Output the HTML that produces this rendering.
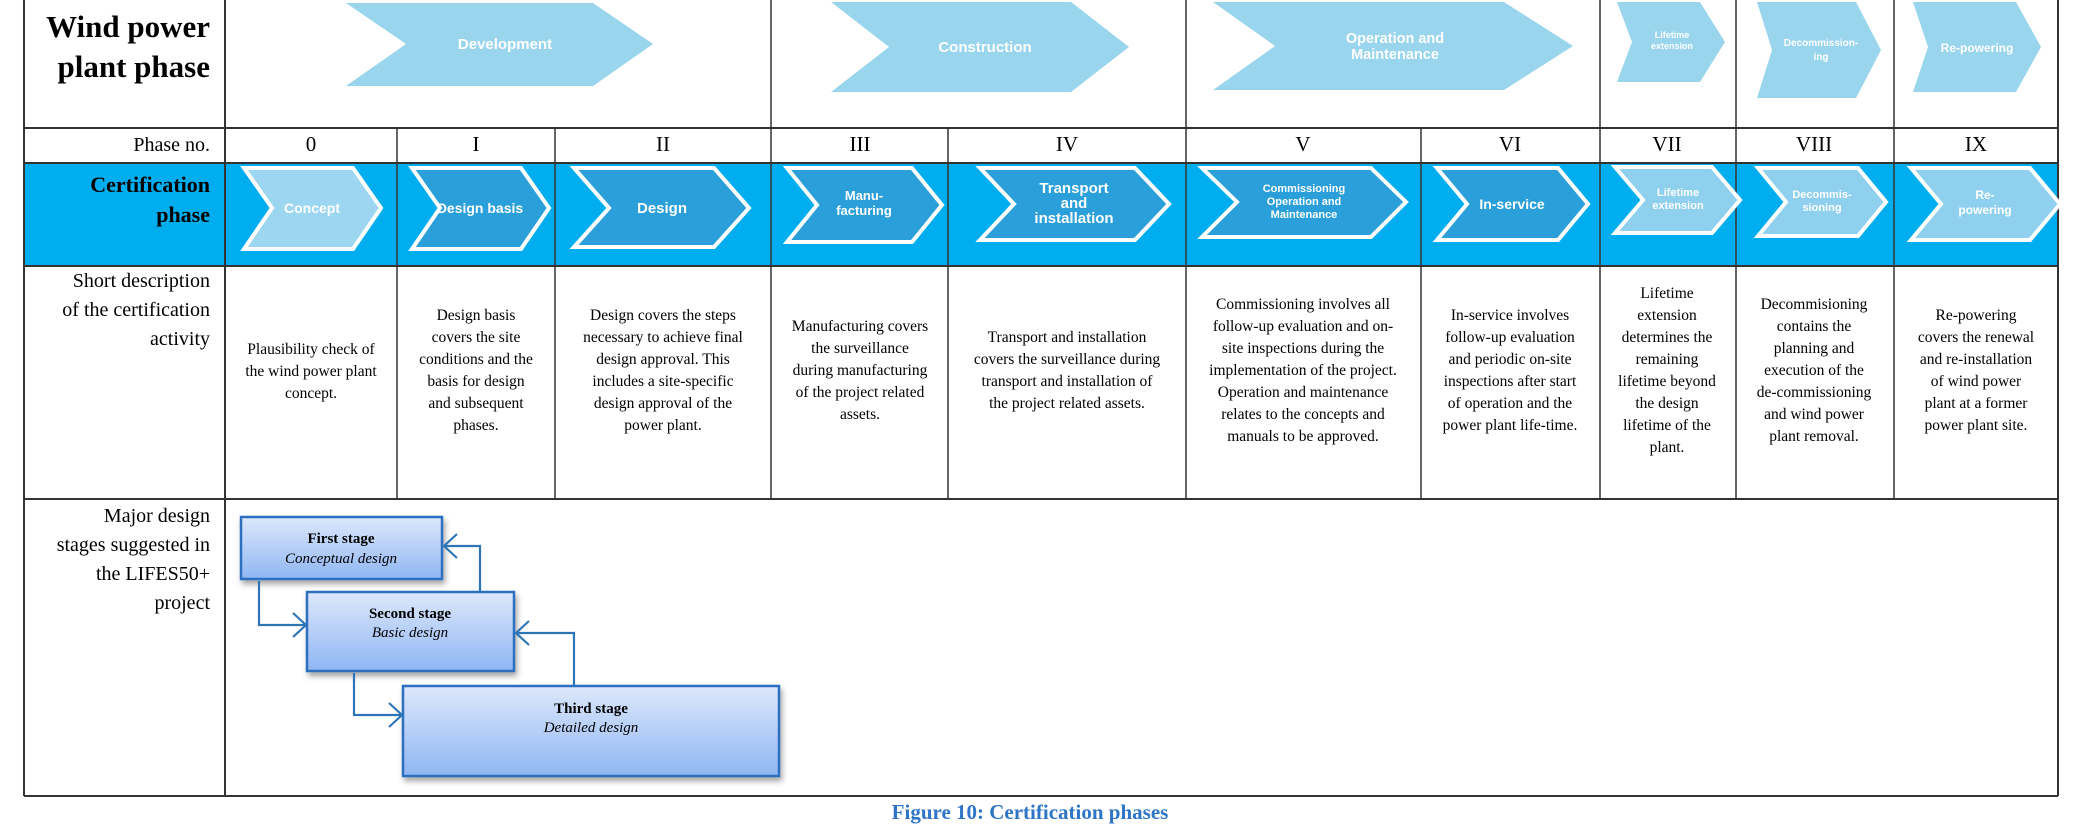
<!DOCTYPE html>
<html><head><meta charset="utf-8"><style>
html,body{margin:0;padding:0;background:#fff;}
svg{display:block;}
.s{font-family:"Liberation Serif",serif;}
.w{font-family:"Liberation Sans",sans-serif;font-weight:bold;fill:#fff;}
</style></head><body>
<svg width="2077" height="837" viewBox="0 0 2077 837" xmlns="http://www.w3.org/2000/svg">
<defs>
<linearGradient id="bg" x1="0" y1="0" x2="0" y2="1"><stop offset="0" stop-color="#dde8fb"/><stop offset="1" stop-color="#8fb6f3"/></linearGradient>
<filter id="sh" x="-10%" y="-10%" width="130%" height="140%"><feDropShadow dx="2" dy="4" stdDeviation="3" flood-color="#000" flood-opacity="0.35"/></filter>
</defs>
<rect x="24" y="163" width="2034" height="103" fill="#00aeef"/>
<g stroke="#333" stroke-width="2" fill="none">
<line x1="24" y1="0" x2="24" y2="796"/>
<line x1="2058" y1="0" x2="2058" y2="796"/>
<line x1="24" y1="128" x2="2058" y2="128"/>
<line x1="24" y1="163" x2="2058" y2="163"/>
<line x1="24" y1="266" x2="2058" y2="266"/>
<line x1="24" y1="499" x2="2058" y2="499"/>
<line x1="24" y1="796" x2="2058" y2="796"/>
<line x1="225" y1="0" x2="225" y2="796"/>
</g>
<g stroke="#333" stroke-width="1.5">
<line x1="771" y1="0" x2="771" y2="499"/>
<line x1="1186" y1="0" x2="1186" y2="499"/>
<line x1="1600" y1="0" x2="1600" y2="499"/>
<line x1="1736" y1="0" x2="1736" y2="499"/>
<line x1="1894" y1="0" x2="1894" y2="499"/>
<line x1="397" y1="128" x2="397" y2="499"/>
<line x1="555" y1="128" x2="555" y2="499"/>
<line x1="948" y1="128" x2="948" y2="499"/>
<line x1="1421" y1="128" x2="1421" y2="499"/>
</g>
<g fill="#9ad5ee">
<polygon points="346,3 593,3 653,44 593,86 346,86 406,44"/>
<polygon points="831,2 1071,2 1129,47 1071,92 831,92 889,47"/>
<polygon points="1213,2 1504,2 1573,46 1504,90 1213,90 1275,46"/>
<polygon points="1617,2 1700,2 1725,42 1700,82 1617,82 1632,42"/>
<polygon points="1757,2 1856,2 1881,50 1856,98 1757,98 1772,50"/>
<polygon points="1913,2 2016,2 2041,47 2016,92 1913,92 1928,47"/>
</g>
<g class="w" text-anchor="middle">
<text x="505" y="49" font-size="15">Development</text>
<text x="985" y="52" font-size="15">Construction</text>
<text x="1395" y="43" font-size="14.5">Operation and</text>
<text x="1395" y="59" font-size="14.5">Maintenance</text>
<text x="1672" y="38" font-size="9">Lifetime</text>
<text x="1672" y="49" font-size="9">extension</text>
<text x="1821" y="46" font-size="10">Decommission-</text>
<text x="1821" y="60" font-size="10">ing</text>
<text x="1977" y="52" font-size="12">Re-powering</text>
</g>
<g stroke="#fff" stroke-width="4" stroke-linejoin="miter">
<polygon fill="#9dd6f0" points="244,168 353,168 381,208 353,249 244,249 272,208"/>
<polygon fill="#2a9fd9" points="412,168 521,168 549,208 521,249 412,249 440,208"/>
<polygon fill="#2a9fd9" points="574,168 714,168 749,208 714,247 574,247 609,208"/>
<polygon fill="#2a9fd9" points="787,168 912,168 942,205 912,242 787,242 817,205"/>
<polygon fill="#2a9fd9" points="980,168 1135,168 1169,204 1135,240 980,240 1014,204"/>
<polygon fill="#2a9fd9" points="1202,168 1371,168 1406,202 1371,237 1202,237 1237,202"/>
<polygon fill="#2a9fd9" points="1437,168 1558,168 1588,204 1558,240 1437,240 1467,204"/>
<polygon fill="#8fd0ee" points="1615,167 1712,167 1740,200 1712,233 1615,233 1643,200"/>
<polygon fill="#8fd0ee" points="1758,168 1858,168 1886,202 1858,236 1758,236 1786,202"/>
<polygon fill="#8fd0ee" points="1911,168 2030,168 2060,204 2030,240 1911,240 1941,204"/>
</g>
<g class="w" text-anchor="middle">
<text x="312" y="213" font-size="14">Concept</text>
<text x="480" y="213" font-size="14">Design basis</text>
<text x="662" y="213" font-size="15">Design</text>
<text x="864" y="200" font-size="13">Manu-</text>
<text x="864" y="215" font-size="13">facturing</text>
<text x="1074" y="193" font-size="15">Transport</text>
<text x="1074" y="208" font-size="15">and</text>
<text x="1074" y="223" font-size="15">installation</text>
<text x="1304" y="192" font-size="11">Commissioning</text>
<text x="1304" y="205" font-size="11">Operation and</text>
<text x="1304" y="218" font-size="11">Maintenance</text>
<text x="1512" y="209" font-size="14">In-service</text>
<text x="1678" y="196" font-size="11">Lifetime</text>
<text x="1678" y="209" font-size="11">extension</text>
<text x="1822" y="198" font-size="11">Decommis-</text>
<text x="1822" y="211" font-size="11">sioning</text>
<text x="1985" y="199" font-size="12">Re-</text>
<text x="1985" y="214" font-size="12">powering</text>
</g>
<g class="s" text-anchor="end" fill="#000">
<text x="210" y="37" font-size="31" font-weight="bold">Wind power</text>
<text x="210" y="77" font-size="31" font-weight="bold">plant phase</text>
<text x="210" y="151" font-size="20">Phase no.</text>
<text x="210" y="192" font-size="22" font-weight="bold">Certification</text>
<text x="210" y="222" font-size="22" font-weight="bold">phase</text>
<text x="210" y="287" font-size="20">Short description</text>
<text x="210" y="316" font-size="20">of the certification</text>
<text x="210" y="345" font-size="20">activity</text>
<text x="210" y="522" font-size="20">Major design</text>
<text x="210" y="551" font-size="20">stages suggested in</text>
<text x="210" y="580" font-size="20">the LIFES50+</text>
<text x="210" y="609" font-size="20">project</text>
</g>
<g class="s" text-anchor="middle" font-size="21">
<text x="311" y="151">0</text><text x="476" y="151">I</text><text x="663" y="151">II</text>
<text x="860" y="151">III</text><text x="1067" y="151">IV</text><text x="1303" y="151">V</text>
<text x="1510" y="151">VI</text><text x="1667" y="151">VII</text><text x="1814" y="151">VIII</text>
<text x="1976" y="151">IX</text>
</g>
<g class="s" text-anchor="middle" font-size="15.5">
<text x="311" y="354"><tspan x="311">Plausibility check of</tspan><tspan x="311" dy="22">the wind power plant</tspan><tspan x="311" dy="22">concept.</tspan></text>
<text x="476" y="320"><tspan x="476">Design basis</tspan><tspan x="476" dy="22">covers the site</tspan><tspan x="476" dy="22">conditions and the</tspan><tspan x="476" dy="22">basis for design</tspan><tspan x="476" dy="22">and subsequent</tspan><tspan x="476" dy="22">phases.</tspan></text>
<text x="663" y="320"><tspan x="663">Design covers the steps</tspan><tspan x="663" dy="22">necessary to achieve final</tspan><tspan x="663" dy="22">design approval. This</tspan><tspan x="663" dy="22">includes a site-specific</tspan><tspan x="663" dy="22">design approval of the</tspan><tspan x="663" dy="22">power plant.</tspan></text>
<text x="860" y="331"><tspan x="860">Manufacturing covers</tspan><tspan x="860" dy="22">the surveillance</tspan><tspan x="860" dy="22">during manufacturing</tspan><tspan x="860" dy="22">of the project related</tspan><tspan x="860" dy="22">assets.</tspan></text>
<text x="1067" y="342"><tspan x="1067">Transport and installation</tspan><tspan x="1067" dy="22">covers the surveillance during</tspan><tspan x="1067" dy="22">transport and installation of</tspan><tspan x="1067" dy="22">the project related assets.</tspan></text>
<text x="1303" y="309"><tspan x="1303">Commissioning involves all</tspan><tspan x="1303" dy="22">follow-up evaluation and on-</tspan><tspan x="1303" dy="22">site inspections during the</tspan><tspan x="1303" dy="22">implementation of the project.</tspan><tspan x="1303" dy="22">Operation and maintenance</tspan><tspan x="1303" dy="22">relates to the concepts and</tspan><tspan x="1303" dy="22">manuals to be approved.</tspan></text>
<text x="1510" y="320"><tspan x="1510">In-service involves</tspan><tspan x="1510" dy="22">follow-up evaluation</tspan><tspan x="1510" dy="22">and periodic on-site</tspan><tspan x="1510" dy="22">inspections after start</tspan><tspan x="1510" dy="22">of operation and the</tspan><tspan x="1510" dy="22">power plant life-time.</tspan></text>
<text x="1667" y="298"><tspan x="1667">Lifetime</tspan><tspan x="1667" dy="22">extension</tspan><tspan x="1667" dy="22">determines the</tspan><tspan x="1667" dy="22">remaining</tspan><tspan x="1667" dy="22">lifetime beyond</tspan><tspan x="1667" dy="22">the design</tspan><tspan x="1667" dy="22">lifetime of the</tspan><tspan x="1667" dy="22">plant.</tspan></text>
<text x="1814" y="309"><tspan x="1814">Decommisioning</tspan><tspan x="1814" dy="22">contains the</tspan><tspan x="1814" dy="22">planning and</tspan><tspan x="1814" dy="22">execution of the</tspan><tspan x="1814" dy="22">de-commissioning</tspan><tspan x="1814" dy="22">and wind power</tspan><tspan x="1814" dy="22">plant removal.</tspan></text>
<text x="1976" y="320"><tspan x="1976">Re-powering</tspan><tspan x="1976" dy="22">covers the renewal</tspan><tspan x="1976" dy="22">and re-installation</tspan><tspan x="1976" dy="22">of wind power</tspan><tspan x="1976" dy="22">plant at a former</tspan><tspan x="1976" dy="22">power plant site.</tspan></text>
</g>
<g stroke="#2f6fc0" stroke-width="2.5" fill="url(#bg)" filter="url(#sh)">
<rect x="241" y="517" width="201" height="62"/>
<rect x="307" y="592" width="207" height="79"/>
<rect x="403" y="686" width="376" height="90"/>
</g>
<g stroke="#2e75b6" stroke-width="2.2" fill="none">
<polyline points="259,581 259,625 305,625"/>
<polyline points="293,613 306,625 293,637"/>
<polyline points="354,673 354,715 401,715"/>
<polyline points="389,703 402,715 389,727"/>
<polyline points="480,591 480,546 444,546"/>
<polyline points="457,534 444,546 457,558"/>
<polyline points="574,685 574,633 516,633"/>
<polyline points="529,621 516,633 529,645"/>
</g>
<g class="s" text-anchor="middle" font-size="15">
<text x="341" y="543" font-weight="bold">First stage</text>
<text x="341" y="563" font-style="italic">Conceptual design</text>
<text x="410" y="618" font-weight="bold">Second stage</text>
<text x="410" y="637" font-style="italic">Basic design</text>
<text x="591" y="713" font-weight="bold">Third stage</text>
<text x="591" y="732" font-style="italic">Detailed design</text>
</g>
<text x="1030" y="819" class="s" text-anchor="middle" font-size="21" font-weight="bold" fill="#2e75c6">Figure 10: Certification phases</text>
</svg>
</body></html>
